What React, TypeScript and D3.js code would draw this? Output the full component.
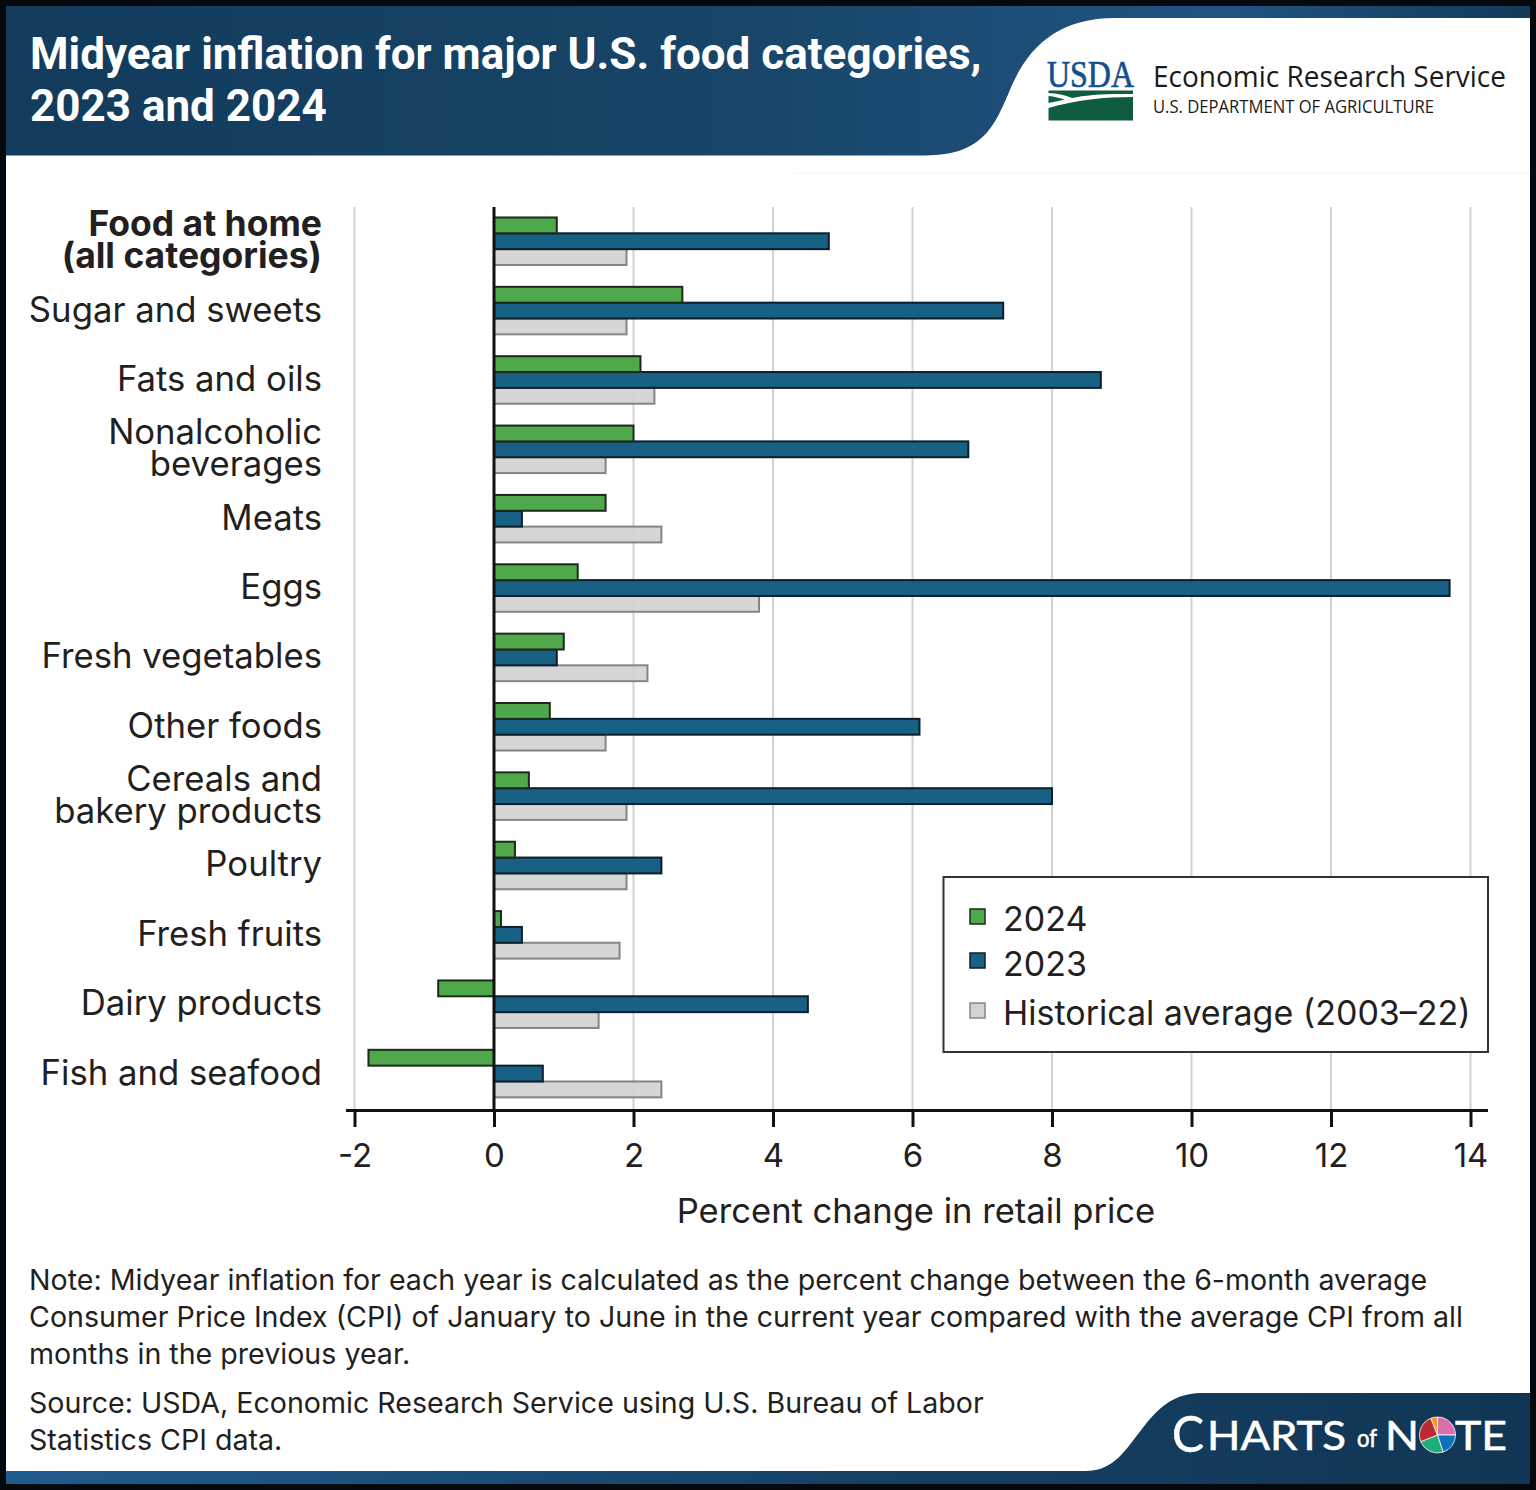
import React, { useRef, useEffect } from 'react';
import * as d3 from 'd3';

const categories = [
    ['Food at home', '(all categories)'],
    ['Sugar and sweets'],
    ['Fats and oils'],
    ['Nonalcoholic', 'beverages'],
    ['Meats'],
    ['Eggs'],
    ['Fresh vegetables'],
    ['Other foods'],
    ['Cereals and', 'bakery products'],
    ['Poultry'],
    ['Fresh fruits'],
    ['Dairy products'],
    ['Fish and seafood'],
];
const values2024 = [0.9, 2.7, 2.1, 2.0, 1.6, 1.2, 1.0, 0.8, 0.5, 0.3, 0.1, -0.8, -1.8];
const values2023 = [4.8, 7.3, 8.7, 6.8, 0.4, 13.7, 0.9, 6.1, 8.0, 2.4, 0.4, 4.5, 0.7];
const valuesHistorical = [1.9, 1.9, 2.3, 1.6, 2.4, 3.8, 2.2, 1.6, 1.9, 1.9, 1.8, 1.5, 2.4];
const seriesNames = ['2024', '2023', 'Historical average (2003–22)'];
const seriesColors = ['#4fa84a', '#186084', '#d3d3d3'];
const seriesStrokes = ['#1c2a1c', '#0c1f2c', '#858585'];
const xTicks = [-2, 0, 2, 4, 6, 8, 10, 12, 14];
const noteLines = [
    'Note: Midyear inflation for each year is calculated as the percent change between the 6-month average',
    'Consumer Price Index (CPI) of January to June in the current year compared with the average CPI from all',
    'months in the previous year.',
];
const sourceLines = ['Source: USDA, Economic Research Service using U.S. Bureau of Labor', 'Statistics CPI data.'];
const logoPieShares = [25, 20, 24, 25, 6];
const logoPieColors = ['#d96fae', '#0f72b8', '#1fae78', '#bd2a33', '#f59b23'];

const FONT = 'Inter, Roboto, sans-serif';
const TEXT = '#231f20';

export default function App() {
    const svgRef = useRef<SVGSVGElement | null>(null);

    useEffect(() => {
        const width = 1536;
        const height = 1490;
        const top = 207;
        const bottom = 1110;

        d3.select(svgRef.current).selectAll('*').remove();
        const svg = d3.select(svgRef.current).attr('width', width).attr('height', height);

        const defs = svg.append('defs');
        const headGrad = defs.append('linearGradient').attr('id', 'headGrad');
        headGrad.append('stop').attr('offset', '0%').attr('stop-color', '#123b5c');
        headGrad.append('stop').attr('offset', '45%').attr('stop-color', '#174466');
        headGrad.append('stop').attr('offset', '80%').attr('stop-color', '#215482');
        headGrad.append('stop').attr('offset', '100%').attr('stop-color', '#123a5a');
        const footGrad = defs.append('linearGradient').attr('id', 'footGrad');
        footGrad.append('stop').attr('offset', '0%').attr('stop-color', '#1f5c8e');
        footGrad.append('stop').attr('offset', '60%').attr('stop-color', '#153f62');
        footGrad.append('stop').attr('offset', '100%').attr('stop-color', '#113655');

        // frame and panels
        svg.append('rect').attr('width', width).attr('height', height).attr('fill', '#03090d');
        svg.append('rect').attr('x', 6).attr('y', 6).attr('width', 1524).attr('height', 1478).attr('fill', '#fff');
        svg.append('path')
            .attr('d', 'M6 6H1530V18H1115C1060 18 1030 45 1012 85C995 125 985 155 925 155.5H6Z')
            .attr('fill', 'url(#headGrad)');
        svg.append('path')
            .attr('d', 'M6 1484V1471H1085C1115 1471 1125 1450 1145 1425C1165 1400 1180 1393 1205 1393H1530V1484Z')
            .attr('fill', 'url(#footGrad)');
        svg.append('line').attr('x1', 795).attr('x2', 1530).attr('y1', 173).attr('y2', 173).attr('stroke', '#f3f3f3');

        // header text
        ['Midyear inflation for major U.S. food categories,', '2023 and 2024'].forEach((t, i) => {
            svg.append('text')
                .attr('x', 30)
                .attr('y', 69 + i * 52)
                .text(t)
                .attr('fill', '#fff')
                .attr('font-family', 'Roboto')
                .attr('font-weight', 700)
                .attr('font-size', 44);
        });

        // USDA logo
        svg.append('text')
            .attr('x', 1047)
            .attr('y', 87)
            .text('USDA')
            .attr('fill', '#13508f')
            .attr('stroke', '#13508f')
            .attr('stroke-width', 0.7)
            .attr('font-family', 'Liberation Serif')
            .attr('font-size', 38)
            .attr('textLength', 87)
            .attr('lengthAdjust', 'spacingAndGlyphs');
        svg.append('path')
            .attr('d', 'M1048.5 108C1075 100 1105 97 1133 97V120.500H1048.5Z')
            .attr('fill', '#0f5c3f');
        svg.append('path')
            .attr('d', 'M1048.5 90.500H1133V94C1105 93.500 1085 95 1072 98C1065 95 1057 93.500 1048.5 93Z')
            .attr('fill', '#0f5c3f');
        svg.append('path')
            .attr('d', 'M1048.500 96C1054 96.500 1060 98 1065 99.500C1059 101 1053 102 1048.5 103Z')
            .attr('fill', '#0f5c3f');
        svg.append('text')
            .attr('x', 1153)
            .attr('y', 86.5)
            .text('Economic Research Service')
            .attr('fill', '#1a1a1a')
            .attr('font-family', 'Open Sans')
            .attr('font-size', 29.5)
            .attr('textLength', 353)
            .attr('lengthAdjust', 'spacingAndGlyphs');
        svg.append('text')
            .attr('x', 1153)
            .attr('y', 113)
            .text('U.S. DEPARTMENT OF AGRICULTURE')
            .attr('fill', '#1a1a1a')
            .attr('font-family', 'Open Sans')
            .attr('font-size', 18)
            .attr('textLength', 281)
            .attr('lengthAdjust', 'spacingAndGlyphs');

        // scales
        const xScale = d3.scaleLinear().domain([-2, 14]).range([354.5, 1470.5]);
        const yScale = d3
            .scaleBand<number>()
            .domain(d3.range(categories.length))
            .range([top, 1107.8])
            .paddingInner(0.315)
            .paddingOuter(0.151);
        const seriesScale = d3
            .scaleBand<number>()
            .domain(d3.range(3))
            .range([0, yScale.bandwidth()]);
        const seriesValues = [values2024, values2023, valuesHistorical];

        // grid
        svg.append('g')
            .selectAll('line')
            .data(xTicks.filter((d) => d !== 0))
            .join('line')
            .attr('x1', (d) => xScale(d))
            .attr('x2', (d) => xScale(d))
            .attr('y1', top)
            .attr('y2', bottom)
            .attr('stroke', '#d2d2d2')
            .attr('stroke-width', 2);

        // bars, grey goes first so the dark outlines sit on top
        [2, 1, 0].forEach((s) => {
            svg.append('g')
                .selectAll('rect')
                .data(seriesValues[s])
                .join('rect')
                .attr('x', (d) => xScale(Math.min(0, d)))
                .attr('y', (_, i) => yScale(i)! + seriesScale(s)!)
                .attr('width', (d) => Math.abs(xScale(d) - xScale(0)))
                .attr('height', seriesScale.bandwidth())
                .attr('fill', seriesColors[s])
                .attr('fill-opacity', s === 2 ? 0.92 : 1)
                .attr('stroke', seriesStrokes[s])
                .attr('stroke-width', 2);
        });

        // category labels
        categories.forEach((lines, i) => {
            const cy = yScale(i)! + yScale.bandwidth() / 2;
            lines.forEach((line, j) => {
                svg.append('text')
                    .attr('x', 322)
                    .attr('y', cy + (lines.length === 1 ? 11 : j === 0 ? -5 : 27))
                    .attr('text-anchor', 'end')
                    .text(line)
                    .attr('fill', TEXT)
                    .attr('font-family', FONT)
                    .attr('font-weight', i === 0 ? 700 : 400)
                    .attr('font-size', i === 0 ? 35.5 : 34.7);
            });
        });

        // axis
        const axis = svg
            .append('g')
            .attr('transform', `translate(0,${bottom})`)
            .call(
                d3
                    .axisBottom(xScale)
                    .tickValues(xTicks)
                    .tickSize(17)
                    .tickSizeOuter(0)
                    .tickPadding(17)
                    .tickFormat((d) => String(d)),
            );
        axis.select('.domain').attr('d', 'M346 0.5H1488').attr('stroke', '#111').attr('stroke-width', 3);
        axis.selectAll('.tick line').attr('stroke', '#111').attr('stroke-width', 3);
        axis.selectAll('.tick text')
            .attr('fill', TEXT)
            .attr('font-family', FONT)
            .attr('font-size', 33);

        svg.append('line')
            .attr('x1', xScale(0))
            .attr('x2', xScale(0))
            .attr('y1', top)
            .attr('y2', bottom)
            .attr('stroke', '#111')
            .attr('stroke-width', 3);

        svg.append('text')
            .attr('x', 916)
            .attr('y', 1223)
            .attr('text-anchor', 'middle')
            .text('Percent change in retail price')
            .attr('fill', TEXT)
            .attr('font-family', FONT)
            .attr('font-size', 34.6);

        // legend
        svg.append('rect')
            .attr('x', 943.5)
            .attr('y', 877)
            .attr('width', 544.5)
            .attr('height', 175)
            .attr('fill', '#fff')
            .attr('stroke', '#333')
            .attr('stroke-width', 2);
        const legendMarks = [917, 961, 1011];
        const legendBase = [931, 976, 1025];
        seriesNames.forEach((name, i) => {
            svg.append('rect')
                .attr('x', 970)
                .attr('y', legendMarks[i] - 8)
                .attr('width', 15)
                .attr('height', 15)
                .attr('fill', seriesColors[i])
                .attr('stroke', seriesStrokes[i])
                .attr('stroke-width', 1.5);
            svg.append('text')
                .attr('x', 1003)
                .attr('y', legendBase[i])
                .text(name)
                .attr('fill', TEXT)
                .attr('font-family', FONT)
                .attr('font-size', 34);
        });

        // notes
        const noteText = (t: string, y: number) =>
            svg.append('text')
                .attr('x', 29)
                .attr('y', y)
                .text(t)
                .attr('fill', TEXT)
                .attr('font-family', FONT)
                .attr('font-size', 28.6);
        noteLines.forEach((t, i) => noteText(t, 1290 + i * 37));
        sourceLines.forEach((t, i) => noteText(t, 1413 + i * 37));

        // Charts of Note logo
        const logoText = (t: string, x: number, y: number, size: number, len: number) =>
            svg.append('text')
                .attr('x', x)
                .attr('y', y)
                .text(t)
                .attr('fill', '#fff')
                .attr('stroke', '#fff')
                .attr('stroke-width', 0.6)
                .attr('font-family', 'Lato')
                .attr('font-size', size)
                .attr('textLength', len)
                .attr('lengthAdjust', 'spacingAndGlyphs');
        logoText('C', 1172, 1451.5, 50, 32);
        logoText('HARTS', 1207, 1450, 40, 139);
        logoText('of', 1357, 1447, 25, 20);
        logoText('N', 1385, 1450, 40, 34);
        logoText('TE', 1455, 1450, 40, 52);
        const pieArcs = d3.pie<number>().sort(null)(logoPieShares);
        const arc = d3.arc<d3.PieArcDatum<number>>().innerRadius(0).outerRadius(18);
        svg.append('g')
            .attr('transform', 'translate(1437.500,1435)')
            .selectAll('path')
            .data(pieArcs)
            .join('path')
            .attr('d', arc)
            .attr('fill', (_, i) => logoPieColors[i])
            .attr('stroke', '#fff')
            .attr('stroke-width', 0.8);
    }, []);

    return <svg ref={svgRef} style={{ position: 'absolute', left: 0, top: 0, display: 'block' }}></svg>;
}
